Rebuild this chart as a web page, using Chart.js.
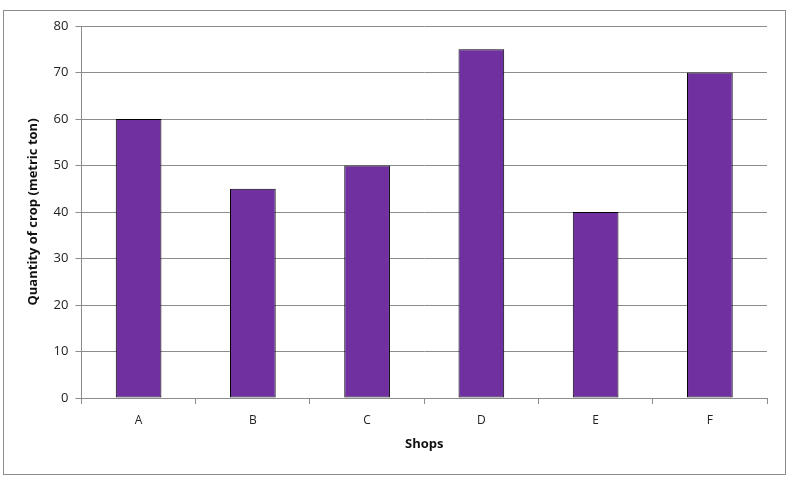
<!DOCTYPE html>
<html>
<head>
<meta charset="utf-8">
<script src="https://cdn.jsdelivr.net/npm/chart.js@4.4.0/dist/chart.umd.min.js"></script>
<style>
html,body{margin:0;padding:0;background:#fff;}
#frame{position:absolute;left:3px;top:10px;width:781px;height:463px;border:1px solid #8c8c8c;background:#fff;}
#frame canvas{display:block;}
</style>
</head>
<body>
<div id="frame"><canvas id="c" width="781" height="463"></canvas></div>
<script>
const categories = ["A","B","C","D","E","F"];
const quantities = [60,45,50,75,40,70];
const yTicks = [0,10,20,30,40,50,60,70,80];

const fontFam = "'Open Sans', 'DejaVu Sans', sans-serif";
new Chart(document.getElementById('c'), {
  type: 'bar',
  data: {
    labels: categories,
    datasets: [{
      data: quantities,
      backgroundColor: '#7030A0',
      borderColor: '#000000',
      borderWidth: 1,
      borderSkipped: false,
      barPercentage: 0.4,
      categoryPercentage: 1.0
    }]
  },
  options: {
    responsive: false,
    animation: false,
    layout: { padding: { top: 15, right: 18, bottom: 18, left: 17 } },
    plugins: { legend: { display: false }, tooltip: { enabled: false } },
    scales: {
      x: {
        grid: { display: true, drawOnChartArea: false, offset: true, tickLength: 6, color: '#8c8c8c' },
        border: { color: '#8c8c8c' },
        ticks: { color: '#222', font: { family: fontFam, size: 12 }, padding: 9 },
        title: { display: true, text: 'Shops', color: '#111', font: { family: fontFam, size: 13, weight: 'bold' }, padding: { top: 0 } }
      },
      y: {
        min: 0, max: 80,
        afterBuildTicks: (s) => { s.ticks = yTicks.map(v => ({ value: v })); },
        grid: { color: '#8c8c8c', tickLength: 6 },
        border: { color: '#8c8c8c' },
        ticks: { color: '#222', font: { family: fontFam, size: 13 }, padding: 7 },
        title: { display: true, text: 'Quantity of crop (metric ton)', color: '#111', font: { family: fontFam, size: 13, weight: 'bold' }, padding: { bottom: 6 } }
      }
    }
  }
});
</script>
</body>
</html>
